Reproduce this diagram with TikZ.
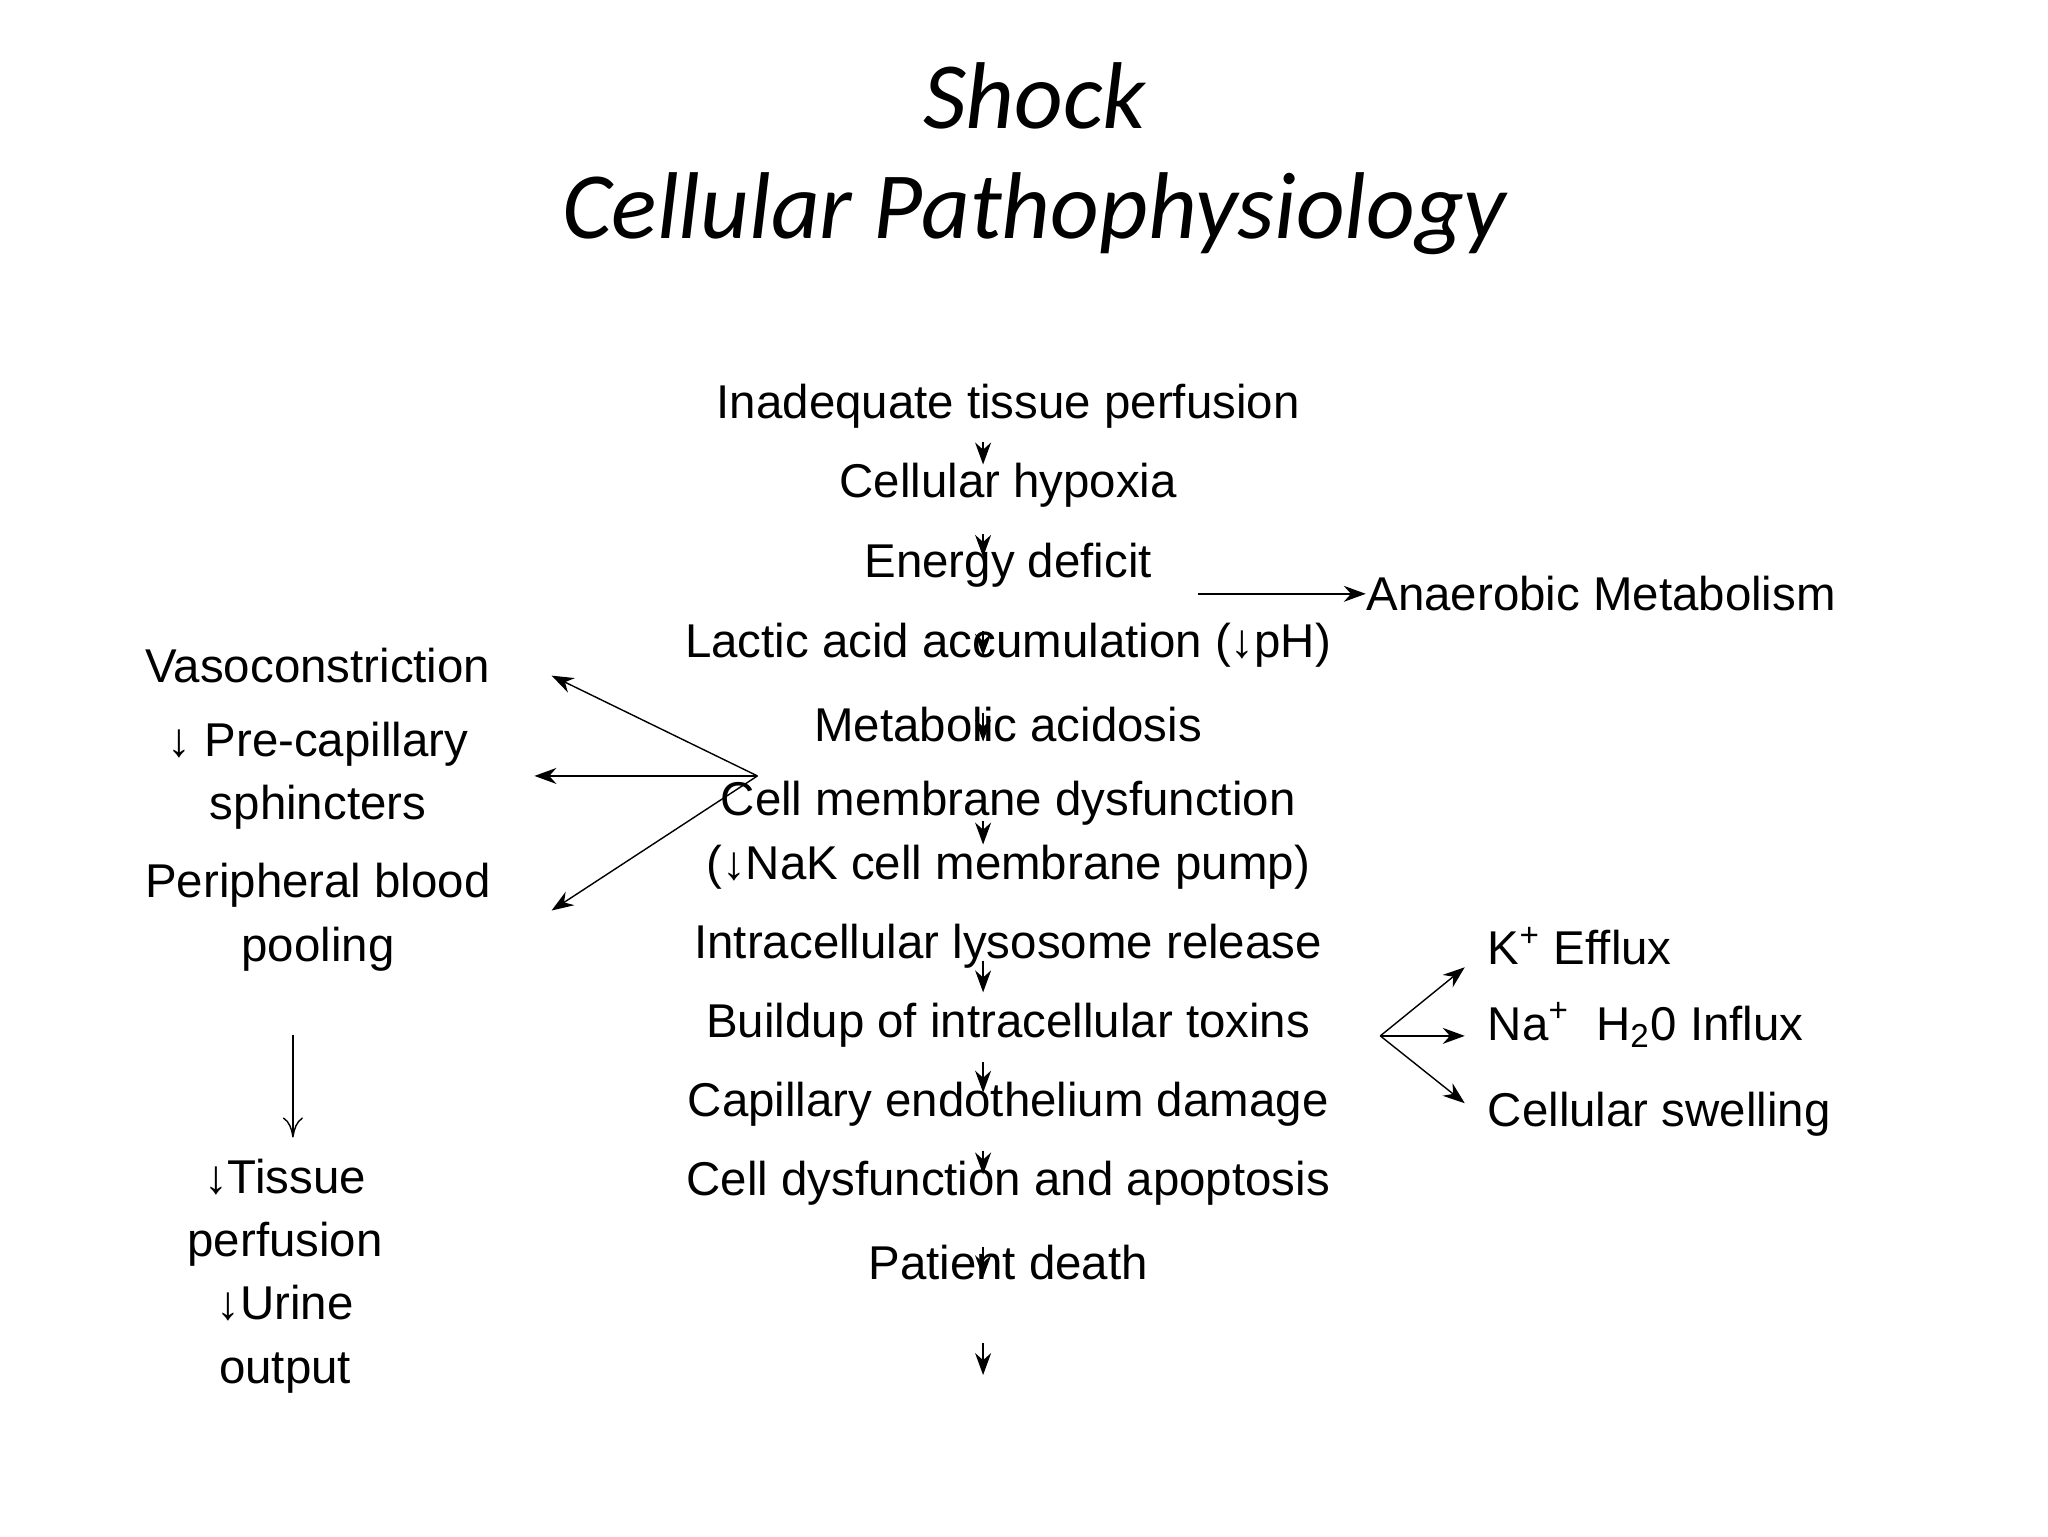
\documentclass[tikz,border=0pt]{standalone}
\usepackage{fontspec}
\setmainfont{Liberation Sans}
\newfontfamily\titlefont{Carlito}
\usetikzlibrary{
  positioning,
  arrows.meta
}

\begin{document}
\begin{tikzpicture}[
    x=0.0132cm,y=-0.0132cm,
    >={Stealth[length=2.2mm,width=1.6mm]},
    cascade/.style={
      align=center,
      inner sep=0pt,
      font=\fontsize{13.5}{18}\selectfont
    },
    side/.style={
      align=center,
      inner sep=0pt,
      font=\fontsize{13.5}{18}\selectfont
    },
    title/.style={
      align=center,
      font=\titlefont\itshape\fontsize{27}{34}\selectfont
    },
    flow/.style={->,black,thin},
    open arrow/.style={-{To[length=2mm,width=2mm]},black,thin}
  ]
  \useasboundingbox (0,0) rectangle (1552,1164);

  % Title
  \node[title] (shock) at (784,73) {Shock};
  \node[title] (cellpath) at (784,162) {Cellular Pathophysiology};

  % Main cascade
  \node[cascade] (perf) at (764,308) {Inadequate tissue perfusion};
  \node[cascade] (hypoxia) at (764,368) {Cellular hypoxia};
  \node[cascade] (energy) at (764,428) {Energy deficit};
  \node[cascade] (lactic) at (764,489) {Lactic acid accumulation (\char"2193pH)};
  \node[cascade] (acidosis) at (764,549) {Metabolic acidosis};
  \node[cascade] (membrane) at (764,633) {Cell membrane dysfunction\\(\char"2193NaK cell membrane pump)};
  \node[cascade] (lysosome) at (764,717) {Intracellular lysosome release};
  \node[cascade] (toxins) at (764,777) {Buildup of intracellular toxins};
  \node[cascade] (capillary) at (764,837) {Capillary endothelium damage};
  \node[cascade] (apoptosis) at (764,897) {Cell dysfunction and apoptosis};
  \node[cascade] (death) at (764,957) {Patient death};

  % Right side
  \node[side, anchor=west] (anaerobic) at (1035,450) {Anaerobic Metabolism};
  \node[side, anchor=west] (kefflux) at (1127,717) {K\textsuperscript{+} Efflux};
  \node[side, anchor=west] (nainflux) at (1127,777) {Na\textsuperscript{+}\ \ H\textsubscript{2}0 Influx};
  \node[side, anchor=west] (swelling) at (1127,844) {Cellular swelling};

  % Left side
  \node[side] (vaso) at (241,504) {Vasoconstriction};
  \node[side] (sphinct) at (241,588) {\char"2193{} Pre-capillary\\sphincters};
  \node[side] (pooling) at (241,695) {Peripheral blood\\pooling};
  \node[side] (tissue) at (216,967) {\char"2193Tissue\\perfusion\\\char"2193Urine\\output};

  % Small arrows in the cascade
  \foreach \ya/\yb [count=\i] in {335/352, 405/422, 478/497, 540/562, 622/640,
                                  728/752, 805/828, 872/890, 945/968, 1018/1042} {
    \coordinate (a\i) at (745,\ya);
    \coordinate (b\i) at (745,\yb);
    \draw[flow] (a\i) -- (b\i);
  }

  % Branches
  \coordinate (energyend) at (908,450);
  \draw[flow] (energyend) -- (anaerobic.west);

  \coordinate (hub) at (574,588);
  \coordinate (vasoend) at (418,512);
  \coordinate (sphinctend) at (405,588);
  \coordinate (poolingend) at (418,690);
  \draw[flow] (hub) -- (vasoend);
  \draw[flow] (hub) -- (sphinctend);
  \draw[flow] (hub) -- (poolingend);

  \coordinate (fork) at (1046,785);
  \coordinate (kend) at (1110,733);
  \coordinate (naend) at (1110,785);
  \coordinate (swend) at (1110,836);
  \draw[flow] (fork) -- (kend);
  \draw[flow] (fork) -- (naend);
  \draw[flow] (fork) -- (swend);

  \coordinate (down) at (222,784);
  \coordinate (downend) at (222,862);
  \draw[open arrow] (down) -- (downend);
\end{tikzpicture}
\end{document}
